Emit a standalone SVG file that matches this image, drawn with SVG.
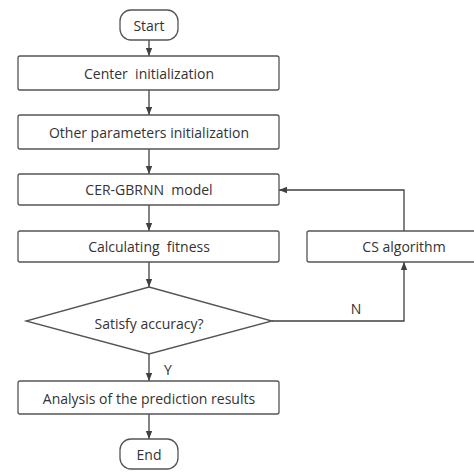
<svg xmlns="http://www.w3.org/2000/svg" width="474" height="474" viewBox="0 0 474 474">
<defs>
<marker id="arr" viewBox="0 0 10 10" refX="10" refY="5" markerWidth="8" markerHeight="8" markerUnits="userSpaceOnUse" orient="auto">
<path d="M0,1 L10,5 L0,9 Z" fill="#404040"/>
</marker>
<style>
.box{fill:#fff;stroke:#555;stroke-width:1.3}
.t{font-family:"Open Sans","Noto Sans",sans-serif;font-size:14px;fill:#333;text-anchor:middle;dominant-baseline:central;white-space:pre}
.c{fill:none;stroke:#404040;stroke-width:1.3;marker-end:url(#arr)}
.l{fill:none;stroke:#404040;stroke-width:1.3}
</style>
</defs>
<rect width="474" height="474" fill="#fff"/>
<g id="connectors">
<line class="c" x1="149" y1="40" x2="149" y2="56"/>
<line class="c" x1="149" y1="90" x2="149" y2="115"/>
<line class="c" x1="149" y1="149" x2="149" y2="174"/>
<line class="c" x1="149" y1="205" x2="149" y2="231"/>
<line class="c" x1="149" y1="262" x2="149" y2="287"/>
<line class="c" x1="149" y1="354" x2="149" y2="381"/>
<line class="c" x1="149" y1="414" x2="149" y2="439"/>
<polyline class="c" points="272,321 404,321 404,262"/>
<polyline class="c" points="404,231 404,190 279,190"/>
<text class="t" x="356" y="308">N</text>
<text class="t" x="168" y="369">Y</text>
</g>
<g id="start"><rect class="box" x="120" y="10" width="58" height="30" rx="11"/><text class="t" x="149" y="25">Start</text></g>
<g id="center"><rect class="box" x="18" y="56" width="261" height="34" rx="2"/><text class="t" x="149" y="73">Center  initialization</text></g>
<g id="other"><rect class="box" x="18" y="115" width="261" height="34" rx="2"/><text class="t" x="149" y="132">Other parameters initialization</text></g>
<g id="model"><rect class="box" x="18" y="174" width="261" height="31" rx="2"/><text class="t" x="149" y="189.5">CER-GBRNN  model</text></g>
<g id="fitness"><rect class="box" x="18" y="231" width="261" height="31" rx="2"/><text class="t" x="149" y="246.5">Calculating  fitness</text></g>
<g id="cs"><rect class="box" x="307" y="231" width="170" height="31" rx="2"/><text class="t" x="404" y="246.5">CS algorithm</text></g>
<g id="decision"><polygon class="box" points="149,287 272,321 149,354 26,321"/><text class="t" x="149" y="323">Satisfy accuracy?</text></g>
<g id="analysis"><rect class="box" x="18" y="381" width="261" height="33" rx="2"/><text class="t" x="149" y="398">Analysis of the prediction results</text></g>
<g id="end"><rect class="box" x="120" y="439" width="58" height="30" rx="11"/><text class="t" x="149" y="454">End</text></g>
</svg>
